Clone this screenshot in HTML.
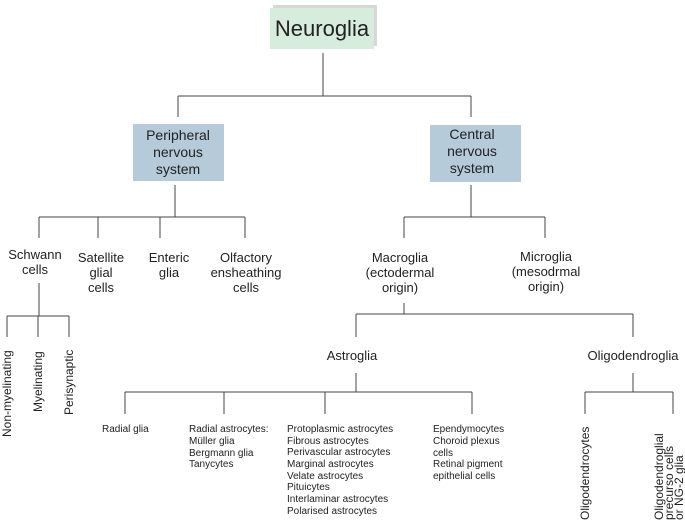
<!DOCTYPE html>
<html><head><meta charset="utf-8"><style>
html,body{margin:0;padding:0;background:#fff;}
svg{display:block;}
text{font-family:"Liberation Sans",Arial,sans-serif;fill:#222;}
</style></head><body>
<svg width="685" height="522" viewBox="0 0 685 522" xmlns="http://www.w3.org/2000/svg">
<!-- boxes -->
<rect x="273" y="5" width="104" height="41" fill="#bdbdbd" opacity="0.6"/>
<rect x="270" y="8" width="104" height="41" fill="#d6ecdc"/>
<text x="322" y="36" font-size="22" text-anchor="middle">Neuroglia</text>
<rect x="133" y="124" width="91" height="57" fill="#b5cbd9"/>
<text font-size="14" text-anchor="middle"><tspan x="178" y="140">Peripheral</tspan><tspan x="178" y="157">nervous</tspan><tspan x="178" y="174">system</tspan></text>
<rect x="430" y="125" width="91" height="57" fill="#b5cbd9"/>
<text font-size="14" text-anchor="middle"><tspan x="472" y="139">Central</tspan><tspan x="472" y="156">nervous</tspan><tspan x="472" y="173">system</tspan></text>
<!-- lines -->
<g stroke="#444" stroke-width="1" fill="none">
<path d="M323 53V96M178 96H471M178 96V117M471 96V117"/>
<path d="M175 185V217M39 217H245M39 217V238M98 217V238M160 217V238M245 217V238"/>
<path d="M471 185V217M404 217H545M404 217V238M545 217V238"/>
<path d="M39 283V316M7 316H69M7 316V337M38 316V337M69 316V337"/>
<path d="M404 303V314M356 314H633M356 314V337M633 314V337"/>
<path d="M356 373V392M125 392H472M125 392V414M224 392V414M325 392V414M472 392V414"/>
<path d="M633 373V392M585 392H673M585 392V414M673 392V414"/>
</g>
<!-- level 3 labels -->
<g font-size="13" text-anchor="middle">
<text><tspan x="35" y="259">Schwann</tspan><tspan x="35" y="274">cells</tspan></text>
<text><tspan x="101" y="262">Satellite</tspan><tspan x="101" y="277">glial</tspan><tspan x="101" y="292">cells</tspan></text>
<text><tspan x="169" y="262">Enteric</tspan><tspan x="169" y="277">glia</tspan></text>
<text><tspan x="246" y="262">Olfactory</tspan><tspan x="246" y="277">ensheathing</tspan><tspan x="246" y="292">cells</tspan></text>
<text><tspan x="400" y="262">Macroglia</tspan><tspan x="400" y="277">(ectodermal</tspan><tspan x="400" y="292">origin)</tspan></text>
<text><tspan x="546" y="261">Microglia</tspan><tspan x="546" y="276">(mesodrmal</tspan><tspan x="546" y="291">origin)</tspan></text>
<text x="352" y="360">Astroglia</text>
<text x="633" y="360">Oligodendroglia</text>
</g>
<!-- rotated -->
<g font-size="12">
<text transform="translate(11,437) rotate(-90)">Non-myelinating</text>
<text transform="translate(42,412) rotate(-90)">Myelinating</text>
<text transform="translate(73,415) rotate(-90)">Perisynaptic</text>
<text transform="translate(589,520) rotate(-90)">Oligodendrocytes</text>
<text transform="translate(663,520) rotate(-90)">Oligodendroglial</text>
<text transform="translate(673,520) rotate(-90)">precurso cells</text>
<text transform="translate(683,520) rotate(-90)">or NG-2 glia</text>
</g>
<!-- bottom lists -->
<g font-size="10">
<text x="102" y="432">Radial glia</text>
<text><tspan x="189" y="432">Radial astrocytes:</tspan><tspan x="189" y="444">Müller glia</tspan><tspan x="189" y="456">Bergmann glia</tspan><tspan x="189" y="467">Tanycytes</tspan></text>
<text><tspan x="287" y="432">Protoplasmic astrocytes</tspan><tspan x="287" y="444">Fibrous astrocytes</tspan><tspan x="287" y="455">Perivascular astrocytes</tspan><tspan x="287" y="467">Marginal astrocytes</tspan><tspan x="287" y="479">Velate astrocytes</tspan><tspan x="287" y="490">Pituicytes</tspan><tspan x="287" y="502">Interlaminar astrocytes</tspan><tspan x="287" y="514">Polarised astrocytes</tspan></text>
<text><tspan x="433" y="432">Ependymocytes</tspan><tspan x="433" y="444">Choroid plexus</tspan><tspan x="433" y="456">cells</tspan><tspan x="433" y="467">Retinal pigment</tspan><tspan x="433" y="479">epithelial cells</tspan></text>
</g>
</svg>
</body></html>
